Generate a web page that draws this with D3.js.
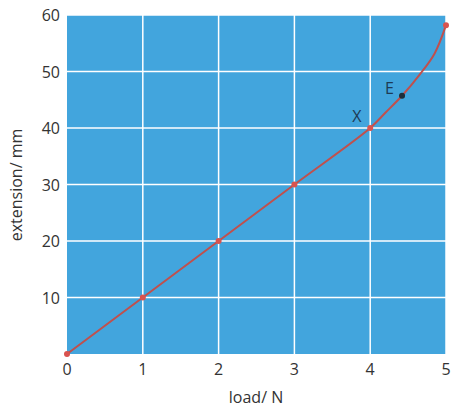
<!DOCTYPE html><html><head><script src="https://cdn.jsdelivr.net/npm/d3@7"></script>
<style>body{margin:0;background:#fff}text{font-family:"Open Sans",Arial,sans-serif;fill:#333}</style></head><body>
<svg id="c" width="474" height="412"></svg>
<script>
const xTicks=[0,1,2,3,4,5];
const yTicks=[10,20,30,40,50,60];
const lineX=[0,1,2,3,4,4.2,4.42,4.65,4.85,5];
const lineY=[0,10,20,30,40,42.7,45.7,49.4,53.2,58.2];
const dotsX=[0,1,2,3,4,5];
const dotsY=[0,10,20,30,40,58.2];
const pointE=[4.42,45.7];
const svg=d3.select("#c");
const x=d3.scaleLinear().domain([0,5]).range([67,446]);
const y=d3.scaleLinear().domain([0,60]).range([354,15]);
svg.append("rect").attr("x",67).attr("y",15).attr("width",379).attr("height",339).attr("fill","#42a5dd");
svg.selectAll(".gx").data(xTicks.slice(1)).join("line").attr("x1",d=>x(d)).attr("x2",d=>x(d)).attr("y1",15).attr("y2",354).attr("stroke","#fff").attr("stroke-width",1.5);
svg.selectAll(".gy").data(yTicks).join("line").attr("x1",67).attr("x2",446).attr("y1",d=>y(d)).attr("y2",d=>y(d)).attr("stroke","#fff").attr("stroke-width",1.5);
svg.selectAll(".tx").data(xTicks).join("text").attr("x",d=>x(d)).attr("y",375).attr("text-anchor","middle").attr("font-size",16).text(d=>d);
svg.selectAll(".ty").data(yTicks).join("text").attr("x",60).attr("y",d=>y(d)+6).attr("text-anchor","end").attr("font-size",16).text(d=>d);
svg.append("text").attr("x",256).attr("y",403).attr("text-anchor","middle").attr("font-size",16).text("load/ N");
svg.append("text").attr("transform","translate(22,185) rotate(-90)").attr("text-anchor","middle").attr("font-size",16).text("extension/ mm");
const pts=lineX.map((v,i)=>[v,lineY[i]]);
svg.append("path").datum(pts).attr("d",d3.line().x(d=>x(d[0])).y(d=>y(d[1])).curve(d3.curveCatmullRom)).attr("fill","none").attr("stroke","#c0504d").attr("stroke-width",2);
svg.selectAll(".d").data(dotsX).join("circle").attr("cx",d=>x(d)).attr("cy",(d,i)=>y(dotsY[i])).attr("r",3).attr("fill","#d9534f");
svg.append("circle").attr("cx",x(pointE[0])).attr("cy",y(pointE[1])).attr("r",3).attr("fill","#1d2d3a");
svg.append("text").attr("x",x(pointE[0])-17).attr("y",y(pointE[1])-2).attr("font-size",16).style("fill","#1d3a55").text("E");
svg.append("text").attr("x",x(4)-18).attr("y",y(40)-6).attr("font-size",16).style("fill","#1d3a55").text("X");
</script></body></html>
